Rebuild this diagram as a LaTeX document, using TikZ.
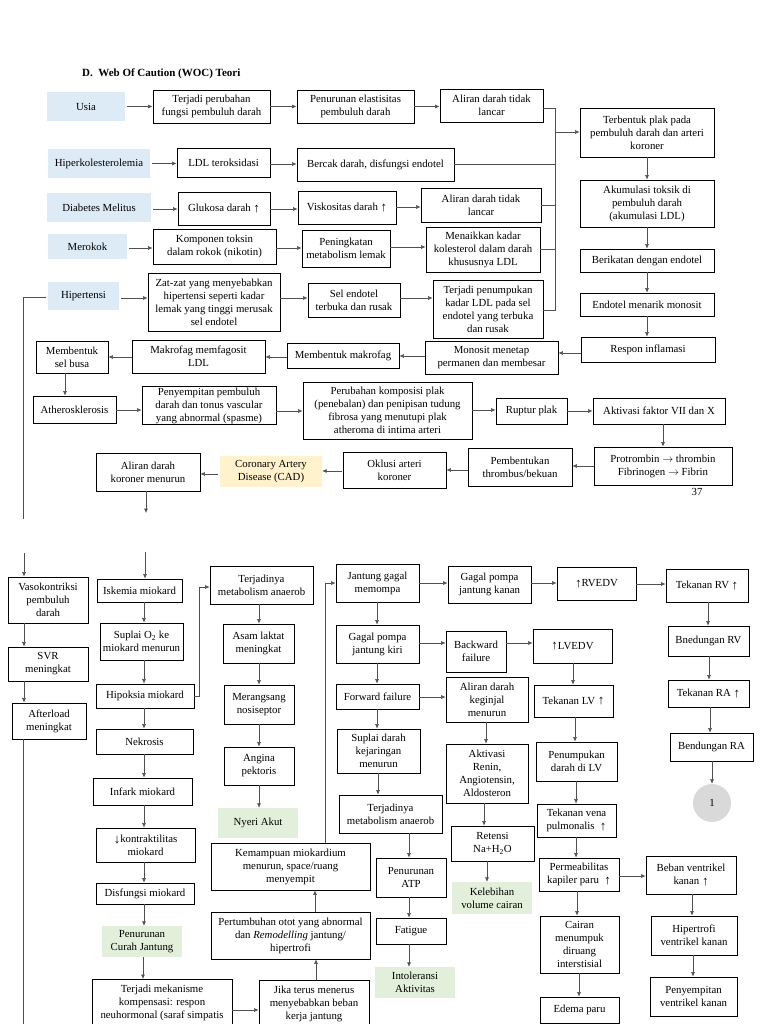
\documentclass[tikz,border=0pt]{standalone}
\usepackage{fontspec}
\setmainfont{Liberation Serif}
\usetikzlibrary{arrows.meta}
\definecolor{fblue}{RGB}{221,235,247}
\definecolor{fyel}{RGB}{255,242,204}
\definecolor{fgreen}{RGB}{226,239,218}
\definecolor{lnc}{RGB}{80,80,80}
\newcommand{\up}{\raisebox{-0.5pt}{\fontsize{13}{13}\selectfont ↑}}
\tikzset{
  txt/.style={font=\fontsize{10.8}{13}\selectfont, align=center, inner sep=1pt},
  bx/.style={txt, draw=black, line width=0.8pt},
  fb/.style={txt, fill=fblue},
  fy/.style={txt, fill=fyel},
  fg/.style={txt, fill=fgreen},
  sz/.style 2 args={minimum width=#1pt, minimum height=#2pt},
  arr/.style={draw=lnc, line width=0.6pt, -{Latex[length=4.5pt,width=4pt]}},
  ln/.style={draw=lnc, line width=0.6pt},
}
\begin{document}
\begin{tikzpicture}[x=1pt,y=-1pt]
\useasboundingbox[fill=white] (0,0) rectangle (768,1024);

\node[font=\bfseries\fontsize{11}{13}\selectfont, anchor=base west, inner sep=0pt] (title) at (82,77) {D.\ \ Web Of Caution (WOC) Teori};

% ---------- Top half ----------
\node[fb, sz={78}{29}] (usia) at (86,106.5) {Usia};
\node[bx, sz={117}{33}] (terjadi) at (211.5,106.5) {Terjadi perubahan\\fungsi pembuluh darah};
\node[bx, sz={117}{33}] (penurunan) at (355.5,106.5) {Penurunan elastisitas\\pembuluh darah};
\node[bx, sz={103}{33}] (aliran1) at (491.5,105.5) {Aliran darah tidak\\lancar};

\node[fb, sz={102}{29}] (hiperk) at (99,163.5) {Hiperkolesterolemia};
\node[bx, sz={93}{29}] (ldl) at (223.5,162.5) {LDL teroksidasi};
\node[bx, sz={157}{33}] (bercak) at (375.5,164.5) {Bercak darah, disfungsi endotel};

\node[fb, sz={104}{29}] (dm) at (99,207.5) {Diabetes Melitus};
\node[bx, sz={92}{33}] (glukosa) at (224,208.5) {Glukosa darah \up};
\node[bx, sz={98}{33}] (visko) at (347,207.5) {Viskositas darah \up};
\node[bx, sz={120}{34}] (aliran2) at (481,205) {Aliran darah tidak\\lancar};

\node[fb, sz={79}{25}] (merokok) at (87.5,246.5) {Merokok};
\node[bx, sz={123}{35}] (komponen) at (214.5,246.5) {Komponen toksin\\dalam rokok (nikotin)};
\node[bx, sz={88}{37}] (peningkatan) at (346,248.5) {Peningkatan\\metabolism lemak};
\node[bx, sz={114}{45}] (menaikkan) at (483,249.5) {Menaikkan kadar\\kolesterol dalam darah\\khususnya LDL};

\node[fb, sz={71}{28}] (hipertensi) at (83.5,296) {Hipertensi};
\node[bx, sz={132}{58}] (zat) at (214,302) {Zat-zat yang menyebabkan\\hipertensi seperti kadar\\lemak yang tinggi merusak\\sel endotel};
\node[bx, sz={92}{34}] (sel) at (354,300) {Sel endotel\\terbuka dan rusak};
\node[bx, sz={110}{58}] (penldl) at (488,309) {Terjadi penumpukan\\kadar LDL pada sel\\endotel yang terbuka\\dan rusak};

\node[bx, sz={134}{49}] (terbentuk) at (647,132.5) {Terbentuk plak pada\\pembuluh darah dan arteri\\koroner};
\node[bx, sz={134}{47}] (akumulasi) at (647,203.5) {Akumulasi toksik di\\pembuluh darah\\(akumulasi LDL)};
\node[bx, sz={134}{23}] (berikatan) at (647,260.5) {Berikatan dengan endotel};
\node[bx, sz={134}{23}] (endotel) at (647,304.5) {Endotel menarik monosit};
\node[bx, sz={134}{25}] (respon) at (648,349.5) {Respon inflamasi};

\node[bx, sz={133}{33}] (monosit) at (491.5,357.5) {Monosit menetap\\permanen dan membesar};
\node[bx, sz={112}{25}] (makrofag) at (343,355.5) {Membentuk makrofag};
\node[bx, sz={133}{33}] (memfagosit) at (198.5,356.5) {Makrofag memfagosit\\LDL};
\node[bx, sz={72}{32}] (selbusa) at (72,357) {Membentuk\\sel busa};
\node[bx, sz={83}{27}] (athero) at (74.5,409.5) {Atherosklerosis};
\node[bx, sz={134}{37}] (penyempitan) at (209,405.5) {Penyempitan pembuluh\\darah dan tonus vascular\\yang abnormal (spasme)};
\node[bx, sz={169}{57}] (perubahan) at (387.5,410.5) {Perubahan komposisi plak\\(penebalan) dan penipisan tudung\\fibrosa yang menutupi plak\\atheroma di intima arteri};
\node[bx, sz={71}{26}] (ruptur) at (531.5,411) {Ruptur plak};
\node[bx, sz={132}{26}] (aktivasi) at (659,411) {Aktivasi faktor VII dan X};
\node[bx, sz={138}{38}] (protrombin) at (663,466) {Protrombin $\rightarrow$ thrombin\\Fibrinogen $\rightarrow$ Fibrin};
\node[bx, sz={104}{38}] (thrombus) at (520,467) {Pembentukan\\thrombus/bekuan};
\node[bx, sz={103}{36}] (oklusi) at (394.5,470) {Oklusi arteri\\koroner};
\node[fy, sz={102}{31}] (cad) at (271,471.5) {Coronary Artery\\Disease (CAD)};
\node[bx, sz={104}{38}] (alirankor) at (148,472) {Aliran darah\\koroner menurun};
\node[txt] (pg) at (697,492) {37};
\coordinate (kend) at (146,513);

% top-half connectors
\draw[arr] (usia.east) ++(2,0) -- (terjadi.west |- usia.east);
\draw[arr] (terjadi.east) -- (terjadi.east -| penurunan.west);
\draw[arr] (penurunan.east) -- (penurunan.east -| aliran1.west);
\draw[arr] (hiperk.east) ++(2,0) -- (ldl.west |- hiperk.east);
\draw[arr] (ldl.east |- 0,164) -- (bercak.west |- 0,164);
\draw[arr] (dm.east |- 0,209) ++(2,0) -- (glukosa.west |- 0,209);
\draw[arr] (glukosa.east |- 0,209) -- (visko.west |- 0,209);
\draw[arr] (visko.east |- 0,207) -- (aliran2.west |- 0,207);
\draw[arr] (merokok.east |- 0,248) ++(2,0) -- (komponen.west |- 0,248);
\draw[arr] (komponen.east |- 0,248) -- (peningkatan.west |- 0,248);
\draw[arr] (peningkatan.east |- 0,247) -- (menaikkan.west |- 0,247);
\draw[arr] (hipertensi.east |- 0,298) ++(2,0) -- (zat.west |- 0,298);
\draw[arr] (zat.east |- 0,298) -- (sel.west |- 0,298);
\draw[arr] (sel.east |- 0,298) -- (penldl.west |- 0,298);

\coordinate (cTop) at (555,108);
\coordinate (cBot) at (555,310);
\draw[ln] (aliran1.east |- cTop) -- (cTop) -- (cBot) -- (penldl.east |- cBot);
\draw[ln] (bercak.east) -- (bercak.east -| cTop);
\draw[ln] (aliran2.east) -- (aliran2.east -| cTop);
\draw[ln] (menaikkan.east) -- (menaikkan.east -| cTop);
\draw[arr] (555,132) -- (terbentuk.west |- 555,132);

\draw[arr] (terbentuk.south) -- (akumulasi.north);
\draw[arr] (akumulasi.south) -- (berikatan.north);
\draw[arr] (berikatan.south) -- (endotel.north);
\draw[arr] (endotel.south) -- (endotel.south |- respon.north);
\draw[arr] (respon.west |- 0,353) -- (monosit.east |- 0,353);
\draw[arr] (monosit.west |- 0,356) -- (makrofag.east |- 0,356);
\draw[arr] (makrofag.west |- 0,357) -- (memfagosit.east |- 0,357);
\draw[arr] (memfagosit.west |- 0,357) -- (selbusa.east |- 0,357);
\draw[arr] (selbusa.south -| 65,0) -- (athero.north -| 65,0);
\draw[arr] (athero.east |- 0,410) -- (penyempitan.west |- 0,410);
\draw[arr] (penyempitan.east |- 0,411) -- (perubahan.west |- 0,411);
\draw[arr] (perubahan.east |- 0,410) -- (ruptur.west |- 0,410);
\draw[arr] (ruptur.east |- 0,411) -- (aktivasi.west |- 0,411);
\draw[arr] (aktivasi.south -| 663,0) -- (protrombin.north -| 663,0);
\draw[arr] (protrombin.west |- 0,466) -- (thrombus.east |- 0,466);
\draw[arr] (thrombus.west |- 0,470) -- (oklusi.east |- 0,470);
\draw[arr] (oklusi.west |- 0,471) ++(-1,0) -- (cad.east |- 0,471);
\draw[arr] (cad.west |- 0,474) ++(-2,0) -- (alirankor.east |- 0,474);
\draw[arr] (alirankor.south -| kend) -- (kend);
\draw[ln] (hipertensi.west |- 0,297) ++(-2,0) -- (23,297) -- (23,519);

% ---------- Bottom half ----------
\coordinate (t1) at (24,553);
\coordinate (t2) at (145,552);
\node[bx, sz={80}{46}] (vaso) at (48,600) {Vasokontriksi\\pembuluh\\darah};
\node[bx, sz={80}{34}] (svr) at (48,664) {SVR\\meningkat};
\node[bx, sz={74}{36}] (after) at (49,721) {Afterload\\meningkat};

\node[bx, sz={85}{23}] (iskemia) at (139.5,590.5) {Iskemia miokard};
\node[bx, sz={83}{37}] (suplaio) at (141.5,641.5) {Suplai O\textsubscript{2} ke\\miokard menurun};
\node[bx, sz={98}{24}] (hipoksia) at (145,696) {Hipoksia miokard};
\node[bx, sz={97}{25}] (nekrosis) at (144.5,741.5) {Nekrosis};
\node[bx, sz={99}{27}] (infark) at (142.5,791.5) {Infark miokard};
\node[bx, sz={99}{34}] (kontrak) at (145.5,845) {\raisebox{-1pt}{\fontsize{13}{13}\selectfont ↓}kontraktilitas\\miokard};
\node[bx, sz={98}{21}] (disfungsi) at (145,893.5) {Disfungsi miokard};
\node[fg, sz={80}{31}] (curah) at (142,941.5) {Penurunan\\Curah Jantung};
\node[bx, anchor=north, minimum width=140pt, inner ysep=6pt] (mekanisme) at (162,979) {Terjadi mekanisme\\kompensasi: respon\\neuhormonal (saraf simpatis};

\node[bx, sz={103}{38}] (anaerob1) at (261.5,585) {Terjadinya\\metabolism anaerob};
\node[bx, sz={71}{39}] (asam) at (258.5,643.5) {Asam laktat\\meningkat};
\node[bx, sz={70}{39}] (merangsang) at (259,704.5) {Merangsang\\nosiseptor};
\node[bx, sz={70}{38}] (angina) at (259,766) {Angina\\pektoris};
\node[fg, sz={80}{30}] (nyeri) at (258,823) {Nyeri Akut};
\node[bx, sz={159}{47}] (kemampuan) at (290.5,866.5) {Kemampuan miokardium\\menurun, space/ruang\\menyempit};
\node[bx, sz={159}{47}] (pertumbuhan) at (290.5,935.5) {Pertumbuhan otot yang abnormal\\dan \textit{Remodelling} jantung/\\hipertrofi};
\node[bx, anchor=north, minimum width=110pt, inner ysep=6pt] (jika) at (314,980) {Jika terus menerus\\menyebabkan beban\\kerja jantung};

\node[bx, sz={83}{38}] (jantung) at (377.5,583) {Jantung gagal\\memompa};
\node[bx, sz={83}{38}] (gkiri) at (377.5,644) {Gagal pompa\\jantung kiri};
\node[bx, sz={83}{25}] (forward) at (377.5,696.5) {Forward failure};
\node[bx, sz={83}{44}] (suplaid) at (378.5,751) {Suplai darah\\kejaringan\\menurun};
\node[bx, sz={103}{38}] (anaerob2) at (390.5,814) {Terjadinya\\metabolism anaerob};
\node[bx, sz={70}{39}] (atp) at (411,877.5) {Penurunan\\ATP};
\node[bx, sz={70}{26}] (fatigue) at (411,931) {Fatigue};
\node[fg, sz={80}{31}] (intol) at (415,982.5) {Intoleransi\\Aktivitas};

\node[bx, sz={83}{37}] (gkanan) at (489.5,584.5) {Gagal pompa\\jantung kanan};
\node[bx, sz={60}{41}] (backward) at (476,651.5) {Backward\\failure};
\node[bx, sz={82}{45}] (alirang) at (487,699.5) {Aliran darah\\keginjal\\menurun};
\node[bx, sz={82}{59}] (renin) at (487,773.5) {Aktivasi\\Renin,\\Angiotensin,\\Aldosteron};
\node[bx, sz={83}{35}] (retensi) at (492.5,843.5) {Retensi\\Na+H\textsubscript{2}O};
\node[fg, sz={80}{32}] (kelebihan) at (492,898) {Kelebihan\\volume cairan};

\node[bx, sz={79}{33}] (rvedv) at (596.5,583.5) {\up RVEDV};
\node[bx, sz={79}{34}] (lvedv) at (572.5,646) {\up LVEDV};
\node[bx, sz={79}{32}] (teklv) at (573.5,701) {Tekanan LV \up};
\node[bx, sz={81}{39}] (penlv) at (576.5,761.5) {Penumpukan\\darah di LV};
\node[bx, sz={79}{33}] (tekvena) at (576.5,820.5) {Tekanan vena\\pulmonalis \ \up};
\node[bx, sz={80}{33}] (permea) at (579,874.5) {Permeabilitas\\kapiler paru \ \up};
\node[bx, sz={79}{57}] (cairan) at (579.5,944.5) {Cairan\\menumpuk\\diruang\\interstisial};
\node[bx, sz={79}{26}] (edema) at (579.5,1010) {Edema paru};

\node[bx, sz={82}{33}] (tekrv) at (707,585.5) {Tekanan RV \up};
\node[bx, sz={81}{30}] (bnedrv) at (708.5,641) {Bnedungan RV};
\node[bx, sz={81}{27}] (tekra) at (708.5,693.5) {Tekanan RA \up};
\node[bx, sz={83}{28}] (bendra) at (711.5,747) {Bendungan RA};
\node[txt, circle, fill=gray!30, minimum size=38pt] (one) at (712,803) {1};
\node[bx, sz={90}{38}] (beban) at (691,875) {Beban ventrikel\\kanan \up};
\node[bx, sz={86}{39}] (hipertrofi) at (694,935.5) {Hipertrofi\\ventrikel kanan};
\node[bx, sz={87}{39}] (penyvk) at (693.5,996.5) {Penyempitan\\ventrikel kanan};

% bottom-half connectors
\draw[arr] (t1) -- (vaso.north -| t1);
\draw[arr] (vaso.south -| 24,0) -- (svr.north -| 24,0);
\draw[arr] (svr.south -| 24,0) -- (after.north -| 24,0);
\draw[ln] (after.south -| 23,0) -- (23,1026);

\draw[arr] (t2) -- (iskemia.north -| t2);
\draw[arr] (iskemia.south -| 144,0) -- (suplaio.north -| 144,0);
\draw[arr] (suplaio.south -| 144,0) -- (hipoksia.north -| 144,0);
\draw[arr] (hipoksia.south -| 144,0) -- (nekrosis.north -| 144,0);
\draw[arr] (nekrosis.south -| 144,0) -- (infark.north -| 144,0);
\draw[arr] (infark.south -| 144,0) -- (kontrak.north -| 144,0);
\draw[arr] (kontrak.south -| 144,0) -- (disfungsi.north -| 144,0);
\draw[arr] (disfungsi.south -| 144,0) -- (curah.north -| 144,0);
\draw[arr] (curah.south -| 143,0) -- (mekanisme.north -| 143,0);
\draw[arr] (hipoksia.east) -| (199,587) -- (anaerob1.west |- 199,587);

\draw[arr] (anaerob1.south -| 259,0) -- (asam.north -| 259,0);
\draw[arr] (asam.south -| 259,0) -- (merangsang.north -| 259,0);
\draw[arr] (merangsang.south -| 259,0) -- (angina.north -| 259,0);
\draw[arr] (angina.south -| 259,0) -- (nyeri.north -| 259,0);

\draw[arr] (mekanisme.east |- 0,1010) -- (jika.west |- 0,1010);
\draw[arr] (jika.north -| 316,0) -- (pertumbuhan.south -| 316,0);
\draw[arr] (pertumbuhan.north -| 315,0) -- (kemampuan.south -| 315,0);
\draw[arr] (kemampuan.north -| 325,0) -- (325,583) -- (jantung.west |- 325,583);

\draw[arr] (jantung.east |- 0,583) -- (gkanan.west |- 0,583);
\draw[arr] (gkanan.east |- 0,583) -- (rvedv.west |- 0,583);
\draw[arr] (rvedv.east |- 0,584) -- (tekrv.west |- 0,584);
\draw[arr] (tekrv.south -| 708,0) -- (bnedrv.north -| 708,0);
\draw[arr] (bnedrv.south -| 709,0) -- (tekra.north -| 709,0);
\draw[arr] (tekra.south -| 710,0) -- (bendra.north -| 710,0);
\draw[arr] (bendra.south -| 712,0) -- (one.north);

\draw[arr] (jantung.south -| 377,0) -- (gkiri.north -| 377,0);
\draw[arr] (gkiri.south -| 377,0) -- (forward.north -| 377,0);
\draw[arr] (forward.south -| 377,0) -- (suplaid.north -| 377,0);
\draw[arr] (suplaid.south -| 378,0) -- (anaerob2.north -| 378,0);
\draw[arr] (anaerob2.south -| 409,0) -- (atp.north -| 409,0);
\draw[arr] (atp.south -| 409,0) -- (fatigue.north -| 409,0);
\draw[arr] (fatigue.south -| 409,0) -- (intol.north -| 409,0);

\draw[arr] (gkiri.east |- 0,643) -- (backward.west |- 0,643);
\draw[arr] (backward.east |- 0,643) -- (lvedv.west |- 0,643);
\draw[arr] (forward.east |- 0,697) -- (alirang.west |- 0,697);
\draw[arr] (alirang.south -| 486,0) -- (renin.north -| 486,0);
\draw[arr] (renin.south -| 484,0) -- (retensi.north -| 484,0);
\draw[arr] (retensi.south -| 487,0) -- (kelebihan.north -| 487,0);

\draw[arr] (lvedv.south -| 573,0) -- (teklv.north -| 573,0);
\draw[arr] (teklv.south -| 575,0) -- (penlv.north -| 575,0);
\draw[arr] (penlv.south -| 576,0) -- (tekvena.north -| 576,0);
\draw[arr] (tekvena.south -| 576,0) -- (permea.north -| 576,0);
\draw[arr] (permea.south -| 577,0) -- (cairan.north -| 577,0);
\draw[arr] (cairan.south -| 579,0) -- (edema.north -| 579,0);
\draw[arr] (permea.east |- 0,876) -- (beban.west |- 0,876);
\draw[arr] (beban.south -| 692,0) -- (hipertrofi.north -| 692,0);
\draw[arr] (hipertrofi.south -| 693,0) -- (penyvk.north -| 693,0);
\end{tikzpicture}
\end{document}
